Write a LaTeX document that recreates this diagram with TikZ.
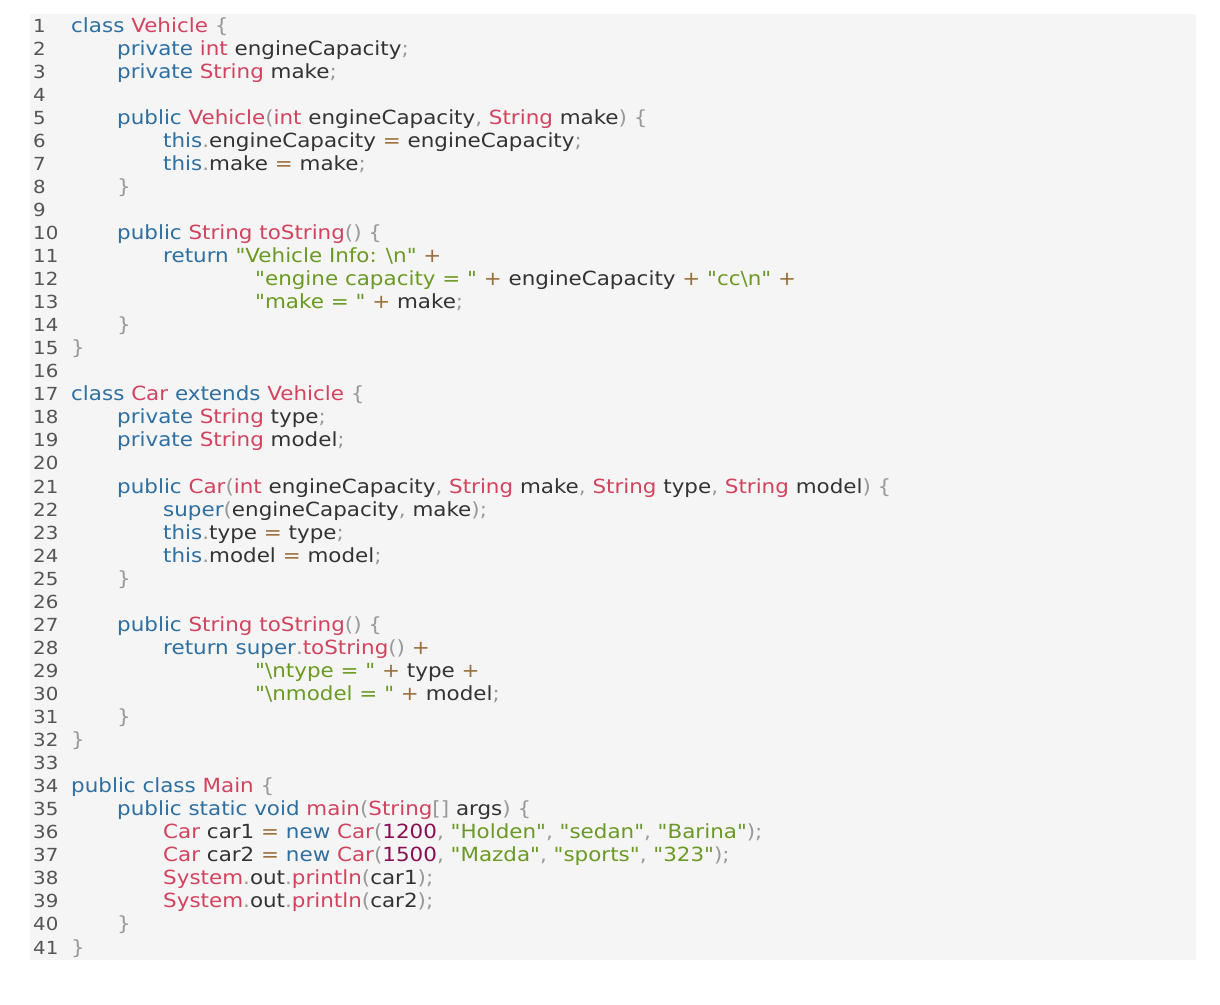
\documentclass[tikz,border=0pt]{standalone}
\usepackage{fontspec}
\setmainfont{DejaVu Sans}[Ligatures=TeXOff,FakeStretch=1.1]
\definecolor{bgc}{HTML}{F5F5F5}
\definecolor{kwc}{HTML}{2E6FA0}
\definecolor{tyc}{HTML}{D2435E}
\definecolor{stc}{HTML}{6A9A23}
\definecolor{nuc}{HTML}{8A0E52}
\definecolor{opc}{HTML}{9A6E3A}
\definecolor{puc}{HTML}{999999}
\definecolor{idc}{HTML}{333333}
\definecolor{lnc}{HTML}{555555}
\newcommand{\cK}[1]{\textcolor{kwc}{#1}}
\newcommand{\cT}[1]{\textcolor{tyc}{#1}}
\newcommand{\cS}[1]{\textcolor{stc}{#1}}
\newcommand{\cN}[1]{\textcolor{nuc}{#1}}
\newcommand{\cO}[1]{\textcolor{opc}{#1}}
\newcommand{\cP}[1]{\textcolor{puc}{#1}}
\newcommand{\bs}{\textbackslash}
\tikzset{codeln/.style={anchor=base west,inner sep=0pt,font=\fontsize{19.5}{22}\selectfont,text=idc},
numln/.style={anchor=base west,inner sep=0pt,font=\fontsize{18}{22}\selectfont,text=lnc}}
\newcommand{\LL}[3]{\node[codeln] (l#1) at (71pt+#2*46pt,{-32pt-(#1-1)*23.05pt}) {#3};}
\begin{document}
\begin{tikzpicture}[x=1pt,y=1pt]
\useasboundingbox (0,0) rectangle (1220,-1004);
\fill[bgc] (30,-14) rectangle (1196,-960);
\foreach \i in {1,...,41}{\node[numln] (n\i) at (33,{-32-(\i-1)*23.05}) {\i};}
\LL{1}{0}{\cK{class} \cT{Vehicle} \cP{\{}}
\LL{2}{1}{\cK{private} \cT{int} engineCapacity\cP{;}}
\LL{3}{1}{\cK{private} \cT{String} make\cP{;}}
\LL{5}{1}{\cK{public} \cT{Vehicle}\cP{(}\cT{int} engineCapacity\cP{,} \cT{String} make\cP{)} \cP{\{}}
\LL{6}{2}{\cK{this}\cP{.}engineCapacity \cO{=} engineCapacity\cP{;}}
\LL{7}{2}{\cK{this}\cP{.}make \cO{=} make\cP{;}}
\LL{8}{1}{\cP{\}}}
\LL{10}{1}{\cK{public} \cT{String} \cT{toString}\cP{()} \cP{\{}}
\LL{11}{2}{\cK{return} \cS{"Vehicle Info: \bs n"} \cO{+}}
\LL{12}{4}{\cS{"engine capacity = "} \cO{+} engineCapacity \cO{+} \cS{"cc\bs n"} \cO{+}}
\LL{13}{4}{\cS{"make = "} \cO{+} make\cP{;}}
\LL{14}{1}{\cP{\}}}
\LL{15}{0}{\cP{\}}}
\LL{17}{0}{\cK{class} \cT{Car} \cK{extends} \cT{Vehicle} \cP{\{}}
\LL{18}{1}{\cK{private} \cT{String} type\cP{;}}
\LL{19}{1}{\cK{private} \cT{String} model\cP{;}}
\LL{21}{1}{\cK{public} \cT{Car}\cP{(}\cT{int} engineCapacity\cP{,} \cT{String} make\cP{,} \cT{String} type\cP{,} \cT{String} model\cP{)} \cP{\{}}
\LL{22}{2}{\cK{super}\cP{(}engineCapacity\cP{,} make\cP{);}}
\LL{23}{2}{\cK{this}\cP{.}type \cO{=} type\cP{;}}
\LL{24}{2}{\cK{this}\cP{.}model \cO{=} model\cP{;}}
\LL{25}{1}{\cP{\}}}
\LL{27}{1}{\cK{public} \cT{String} \cT{toString}\cP{()} \cP{\{}}
\LL{28}{2}{\cK{return} \cK{super}\cP{.}\cT{toString}\cP{()} \cO{+}}
\LL{29}{4}{\cS{"\bs ntype = "} \cO{+} type \cO{+}}
\LL{30}{4}{\cS{"\bs nmodel = "} \cO{+} model\cP{;}}
\LL{31}{1}{\cP{\}}}
\LL{32}{0}{\cP{\}}}
\LL{34}{0}{\cK{public} \cK{class} \cT{Main} \cP{\{}}
\LL{35}{1}{\cK{public} \cK{static} \cK{void} \cT{main}\cP{(}\cT{String}\cP{[]} args\cP{)} \cP{\{}}
\LL{36}{2}{\cT{Car} car1 \cO{=} \cK{new} \cT{Car}\cP{(}\cN{1200}\cP{,} \cS{"Holden"}\cP{,} \cS{"sedan"}\cP{,} \cS{"Barina"}\cP{);}}
\LL{37}{2}{\cT{Car} car2 \cO{=} \cK{new} \cT{Car}\cP{(}\cN{1500}\cP{,} \cS{"Mazda"}\cP{,} \cS{"sports"}\cP{,} \cS{"323"}\cP{);}}
\LL{38}{2}{\cT{System}\cP{.}out\cP{.}\cT{println}\cP{(}car1\cP{);}}
\LL{39}{2}{\cT{System}\cP{.}out\cP{.}\cT{println}\cP{(}car2\cP{);}}
\LL{40}{1}{\cP{\}}}
\LL{41}{0}{\cP{\}}}
\end{tikzpicture}
\end{document}
